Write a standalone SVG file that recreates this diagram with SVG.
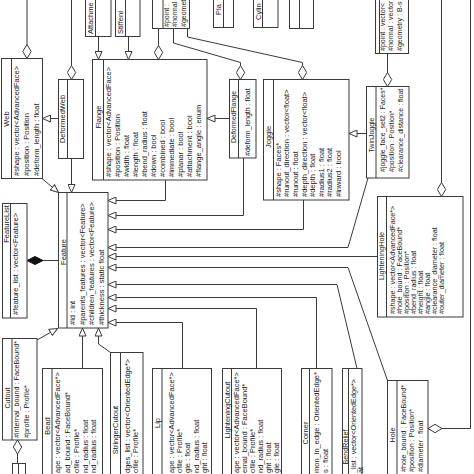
<svg xmlns="http://www.w3.org/2000/svg" width="474" height="474" viewBox="0 0 474 474">
<defs>
<style>
.box{fill:#fff;stroke:#3a3a3a;stroke-width:1}
.sep{stroke:#3a3a3a;stroke-width:1}
.ln{fill:none;stroke:#3a3a3a;stroke-width:1}
.g{marker-end:url(#gen)}
.a{marker-end:url(#agg)}
.c{marker-end:url(#comp)}
text{font-family:"Liberation Sans",Arial,sans-serif;font-size:7.5px;fill:#1a1a1a}
.n{text-anchor:middle}
.s7{font-size:7px}
.s72{font-size:7.2px}
</style>
<marker id="gen" markerUnits="userSpaceOnUse" viewBox="0 0 9 8" refX="8.5" refY="4" markerWidth="9" markerHeight="8" orient="auto"><path d="M0.5,0.5 L8.5,4 L0.5,7.5 Z" fill="#fff" stroke="#3a3a3a" stroke-width="1"/></marker>
<marker id="agg" markerUnits="userSpaceOnUse" viewBox="0 0 15 10" refX="14.5" refY="5" markerWidth="15" markerHeight="10" orient="auto"><path d="M0.5,5 L7.5,0.8 L14.5,5 L7.5,9.2 Z" fill="#fff" stroke="#3a3a3a" stroke-width="1"/></marker>
<marker id="comp" markerUnits="userSpaceOnUse" viewBox="0 0 17 10" refX="16.5" refY="5" markerWidth="17" markerHeight="10" orient="auto"><path d="M0.5,5 L8.5,1 L16.5,5 L8.5,9 Z" fill="#111" stroke="#111" stroke-width="1"/></marker>
</defs>
<rect width="474" height="474" fill="#fff"/>

<g id="connectors">
<path class="ln a" d="M27,0 V58.5"/>
<path class="ln a" d="M71.5,0 V79.5"/>
<path class="ln g" d="M58.5,118.5 H42.5"/>
<path class="ln g" d="M42,178.5 L58.5,192.5"/>
<path class="ln g" d="M71.5,158.5 V192.5"/>
<path class="ln g" d="M98.5,36.5 V59.5"/>
<path class="ln g" d="M128.5,36.5 V59.5"/>
<path class="ln a" d="M158.5,28.5 V59.5"/>
<path class="ln a" d="M173.5,28.5 V43 L240.5,62.5 V79.5"/>
<path class="ln a" d="M187.5,28.5 V37 L302.5,62.5 V79.5"/>
<path class="ln g" d="M229.5,118.5 H207"/>
<path class="ln g" d="M165.5,180 V200.5 H108"/>
<path class="ln g" d="M243.5,158 V215.5 H108"/>
<path class="ln g" d="M303.5,200 V229.5 H108"/>
<path class="ln g" d="M366.5,133.5 H349"/>
<path class="ln g" d="M368,178 L348,247.5 H108"/>
<path class="ln g" d="M377.5,256.5 H108"/>
<path class="ln g" d="M387.5,380.5 L348,267.5 H108"/>
<path class="ln g" d="M357,368.5 L337,284.5 H108"/>
<path class="ln g" d="M316.5,368.5 V297.5 H108"/>
<path class="ln g" d="M256.5,368.5 V308.5 H108"/>
<path class="ln g" d="M182.5,368.5 V322.5 H108"/>
<path class="ln g" d="M82.5,368.5 V328"/>
<path class="ln g" d="M110.5,352.5 L98.5,344 V328"/>
<path class="ln g" d="M37,340 L57.5,328.5"/>
<path class="ln c" d="M58.5,260.5 H27"/>
<path class="ln a" d="M17.5,463.5 V440"/>
<path class="ln a" d="M387.5,53.5 V86.5"/>
<path class="ln a" d="M441.5,0 V196.5"/>
<path class="ln a" d="M470.5,0 V428.5 H428"/>
</g>

<g id="web">
<rect class="box" x="1.5" y="58.5" width="41" height="120"/>
<line class="sep" x1="11.5" y1="58.5" x2="11.5" y2="178.5"/>
<text class="n" transform="translate(9,119) rotate(-90)">Web</text>
<text transform="translate(19.3,176) rotate(-90)">#shape : vector&lt;AdvancedFace&gt;</text>
<text transform="translate(29.3,176) rotate(-90)">#position : Position</text>
<text transform="translate(38.6,176) rotate(-90)">#deform_length : float</text>
</g>

<g id="deformedweb">
<rect class="box" x="58.5" y="79.5" width="25" height="79"/>
<line class="sep" x1="67.5" y1="79.5" x2="67.5" y2="158.5"/>
<text class="n" transform="translate(65,119) rotate(-90)">DeformedWeb</text>
</g>

<g id="attachment">
<rect class="box" x="85.5" y="-5" width="25.5" height="41.5"/>
<line class="sep" x1="95.5" y1="-5" x2="95.5" y2="36.5"/>
<text transform="translate(92.8,34) rotate(-90)">Attachme</text>
</g>

<g id="stiffener">
<rect class="box" x="115.5" y="-5" width="24.5" height="41.5"/>
<line class="sep" x1="125.5" y1="-5" x2="125.5" y2="36.5"/>
<text transform="translate(122.8,34) rotate(-90)">Stiffeni</text>
</g>

<g id="surface1">
<rect class="box" x="152.5" y="-5" width="37" height="33.5"/>
<line class="sep" x1="163" y1="-5" x2="163" y2="28.5"/>
<text class="s7" transform="translate(169.3,27) rotate(-90)">#point :</text>
<text class="s7" transform="translate(176.6,27) rotate(-90)">#normal</text>
<text class="s7" transform="translate(185.6,27) rotate(-90)">#geomet</text>
</g>

<g id="plane">
<rect class="box" x="213.5" y="-5" width="20" height="32.5"/>
<line class="sep" x1="223.5" y1="-5" x2="223.5" y2="27.5"/>
<text transform="translate(220.8,15) rotate(-90)">Pla</text>
</g>

<g id="cylinder">
<rect class="box" x="253.5" y="-5" width="24.5" height="32.5"/>
<line class="sep" x1="262.5" y1="-5" x2="262.5" y2="27.5"/>
<text transform="translate(260.6,20) rotate(-90)">Cylin</text>
</g>

<g id="blankbox">
<rect class="box" x="289.5" y="-5" width="24" height="33.5"/>
<line class="sep" x1="299.5" y1="-5" x2="299.5" y2="28.5"/>
</g>

<g id="flange">
<rect class="box" x="92.5" y="59.5" width="114.5" height="120.5"/>
<line class="sep" x1="103.5" y1="59.5" x2="103.5" y2="180"/>
<text class="n" transform="translate(100.8,117) rotate(-90)">Flange</text>
<text transform="translate(110.8,177) rotate(-90)">#shape : vector&lt;AdvancedFace&gt;</text>
<text transform="translate(119.8,177) rotate(-90)">#position : Position</text>
<text transform="translate(128.8,177) rotate(-90)">#width : float</text>
<text transform="translate(137.8,177) rotate(-90)">#length : float</text>
<text transform="translate(146.8,177) rotate(-90)">#bend_radius : float</text>
<text transform="translate(155.8,177) rotate(-90)">#down : bool</text>
<text transform="translate(164.8,177) rotate(-90)">#combined : bool</text>
<text transform="translate(173.8,177) rotate(-90)">#immediate : bool</text>
<text transform="translate(182.8,177) rotate(-90)">#planar : bool</text>
<text transform="translate(191.8,177) rotate(-90)">#attachment : bool</text>
<text transform="translate(200.8,177) rotate(-90)">#flange_angle : enum</text>
</g>

<g id="deformedflange">
<rect class="box" x="229.5" y="79.5" width="26.5" height="78.5"/>
<line class="sep" x1="238.5" y1="79.5" x2="238.5" y2="158"/>
<text class="n s7" transform="translate(236.3,117) rotate(-90)">DeformedFlange</text>
<text class="s7" transform="translate(249.6,156) rotate(-90)">#deform_length : float</text>
</g>

<g id="joggle">
<rect class="box" x="263.5" y="79.5" width="85.5" height="120.5"/>
<line class="sep" x1="273.5" y1="79.5" x2="273.5" y2="200"/>
<text class="n" transform="translate(270.8,137) rotate(-90)">Joggle</text>
<text transform="translate(280.8,197) rotate(-90)">#shape : Faces*</text>
<text transform="translate(289.4,197) rotate(-90)">#runout_direction : vector&lt;float&gt;</text>
<text transform="translate(298,197) rotate(-90)">#runout : float</text>
<text transform="translate(306.6,197) rotate(-90)">#depth_direction : vector&lt;float&gt;</text>
<text transform="translate(315.2,197) rotate(-90)">#depth : float</text>
<text transform="translate(323.8,197) rotate(-90)">#radius1 : float</text>
<text transform="translate(332.4,197) rotate(-90)">#radius2 : float</text>
<text transform="translate(341,197) rotate(-90)">#inward : bool</text>
</g>

<g id="surface2">
<rect class="box" x="375.5" y="-5" width="33" height="58.5"/>
<line class="sep" x1="379.5" y1="-5" x2="379.5" y2="53.5"/>
<text class="s7" transform="translate(385.1,51) rotate(-90)">#point : vector&lt;</text>
<text class="s7" transform="translate(393.1,51) rotate(-90)">#normal : vector</text>
<text class="s7" transform="translate(402.1,51) rotate(-90)">#geometry : B-s</text>
</g>

<g id="twinjoggle">
<rect class="box" x="366.5" y="86.5" width="42.5" height="91.5"/>
<line class="sep" x1="376" y1="86.5" x2="376" y2="178"/>
<text class="n s7" transform="translate(373.6,135) rotate(-90)">TwinJoggle</text>
<text class="s7" transform="translate(384.6,172) rotate(-90)">#joggle_face_set2 : Faces*</text>
<text class="s7" transform="translate(393.6,172) rotate(-90)">#position : Position*</text>
<text class="s7" transform="translate(402.6,172) rotate(-90)">#clearance_distance : float</text>
</g>

<g id="featurelist">
<rect class="box" x="2.5" y="203.5" width="24.5" height="114.5"/>
<line class="sep" x1="10.5" y1="203.5" x2="10.5" y2="318"/>
<text class="n" transform="translate(9.2,224) rotate(-90)">FeatureList</text>
<text transform="translate(18,315) rotate(-90)">#feature_list : vector&lt;Feature&gt;</text>
</g>

<g id="feature">
<rect class="box" x="58.5" y="192.5" width="49.5" height="135.5"/>
<line class="sep" x1="67" y1="192.5" x2="67" y2="328"/>
<text class="n" transform="translate(65.5,252) rotate(-90)">Feature</text>
<text transform="translate(74.8,325) rotate(-90)">#id : int</text>
<text transform="translate(84.8,325) rotate(-90)">#parents_features : vector&lt;Feature&gt;</text>
<text transform="translate(94.1,325) rotate(-90)">#children_features : vector&lt;Feature&gt;</text>
<text transform="translate(103.5,325) rotate(-90)">#thickness : static float</text>
</g>

<g id="lighteninghole">
<rect class="box" x="377.5" y="196.5" width="85.5" height="120.5"/>
<line class="sep" x1="386.5" y1="196.5" x2="386.5" y2="317"/>
<text class="n s72" transform="translate(384,256) rotate(-90)">LighteningHole</text>
<text class="s72" transform="translate(394.6,314) rotate(-90)">#shape : vector&lt;AdvancedFace*&gt;</text>
<text class="s72" transform="translate(401.6,314) rotate(-90)">#hole_bound : FaceBound*</text>
<text class="s72" transform="translate(408.6,314) rotate(-90)">#position : Position*</text>
<text class="s72" transform="translate(415.6,314) rotate(-90)">#bend_radius : float</text>
<text class="s72" transform="translate(422.6,314) rotate(-90)">#height : float</text>
<text class="s72" transform="translate(429.6,314) rotate(-90)">#angle : float</text>
<text class="s72" transform="translate(436.6,314) rotate(-90)">#clearance_diameter : float</text>
<text class="s72" transform="translate(443.6,314) rotate(-90)">#outer_diameter : float</text>
</g>

<g id="cutout">
<rect class="box" x="2.5" y="338.5" width="34.5" height="101.5"/>
<line class="sep" x1="12" y1="338.5" x2="12" y2="440"/>
<text class="n s72" transform="translate(9.6,398) rotate(-90)">Cutout</text>
<text class="s72" transform="translate(18.6,438) rotate(-90)">#internal_bound : FaceBound*</text>
<text class="s72" transform="translate(28.6,438) rotate(-90)">#profile : Profile*</text>
</g>

<g id="cutoutpart">
<rect class="box" x="12.5" y="463.5" width="13" height="20"/>
<line class="sep" x1="18.5" y1="463.5" x2="18.5" y2="483.5"/>
</g>

<g id="bead">
<rect class="box" x="42.5" y="368.5" width="60" height="130"/>
<line class="sep" x1="52" y1="368.5" x2="52" y2="498.5"/>
<text class="n" transform="translate(49.8,426) rotate(-90)">Bead</text>
<text transform="translate(60.3,473) rotate(-90)">ape : vector&lt;AdvancedFace*&gt;</text>
<text transform="translate(69.8,473) rotate(-90)">ad_bound : FaceBound*</text>
<text transform="translate(78.8,473) rotate(-90)">ofile : Profile*</text>
<text transform="translate(87.8,473) rotate(-90)">nd_radius : float</text>
<text transform="translate(95.8,473) rotate(-90)">nd_radius : float</text>
</g>

<g id="stringercutout">
<rect class="box" x="110.5" y="352.5" width="32.5" height="146"/>
<line class="sep" x1="120.5" y1="352.5" x2="120.5" y2="498.5"/>
<text class="n" transform="translate(118.2,430) rotate(-90)">StringerCutout</text>
<text transform="translate(129.8,473) rotate(-90)">dges_list : vector&lt;OrientedEdge*&gt;</text>
<text transform="translate(137.8,473) rotate(-90)">ofile : Profile*</text>
</g>

<g id="lip">
<rect class="box" x="152.5" y="368.5" width="59" height="130"/>
<line class="sep" x1="162" y1="368.5" x2="162" y2="498.5"/>
<text class="n" transform="translate(159.8,423) rotate(-90)">Lip</text>
<text transform="translate(173.5,473) rotate(-90)">ape : vector&lt;AdvancedFace*&gt;</text>
<text transform="translate(181.8,473) rotate(-90)">ofile : Profile*</text>
<text transform="translate(190.1,473) rotate(-90)">gle : float</text>
<text transform="translate(198.5,473) rotate(-90)">nd_radius : float</text>
<text transform="translate(206.8,473) rotate(-90)">ght : float</text>
</g>

<g id="lighteningcutout">
<rect class="box" x="222.5" y="368.5" width="59" height="130"/>
<line class="sep" x1="231.5" y1="368.5" x2="231.5" y2="498.5"/>
<text class="n" transform="translate(229.8,410) rotate(-90)">LighteningCutout</text>
<text transform="translate(238.8,473) rotate(-90)">ape : vector&lt;AdvancedFace*&gt;</text>
<text transform="translate(246.8,473) rotate(-90)">ernal_bound : FaceBound*</text>
<text transform="translate(254.8,473) rotate(-90)">ofile : Profile*</text>
<text transform="translate(262.8,473) rotate(-90)">nd_radius : float</text>
<text transform="translate(270.8,473) rotate(-90)">ght : float</text>
<text transform="translate(278.8,473) rotate(-90)">gle : float</text>
</g>

<g id="corner">
<rect class="box" x="301.5" y="368.5" width="30.5" height="130"/>
<line class="sep" x1="309.5" y1="368.5" x2="309.5" y2="498.5"/>
<text class="n" transform="translate(308,433) rotate(-90)">Corner</text>
<text transform="translate(318.8,473) rotate(-90)">mon_in_edge : OrientedEdge*</text>
<text transform="translate(327.8,473) rotate(-90)">s : float</text>
</g>

<g id="bendrelief">
<rect class="box" x="342.5" y="368.5" width="19.5" height="140"/>
<line class="sep" x1="348.5" y1="368.5" x2="348.5" y2="508.5"/>
<text class="n s72" transform="translate(348,447) rotate(-90)">BendRelief</text>
<text class="s72" transform="translate(356.4,473) rotate(-90)">_list : vector&lt;OrientedEdge*&gt;</text>
<text class="s72" transform="translate(362.6,473) rotate(-90)">at</text>
</g>

<g id="hole">
<rect class="box" x="387.5" y="380.5" width="40.5" height="110"/>
<line class="sep" x1="397" y1="380.5" x2="397" y2="490.5"/>
<text class="n s72" transform="translate(394.6,435) rotate(-90)">Hole</text>
<text class="s72" transform="translate(405.6,472) rotate(-90)">#hole_bound : FaceBound*</text>
<text class="s72" transform="translate(414.2,472) rotate(-90)">#position : Position*</text>
<text class="s72" transform="translate(422.6,472) rotate(-90)">#diameter : float</text>
</g>
</svg>
